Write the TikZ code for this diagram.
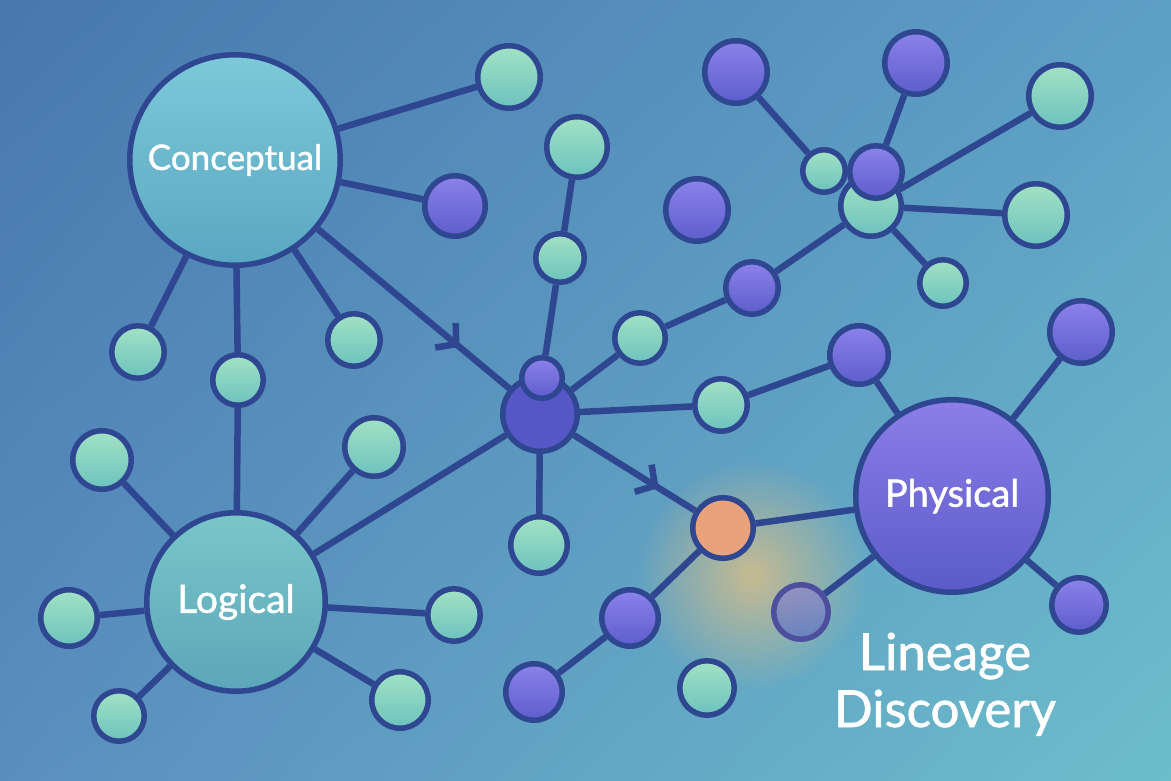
\documentclass[tikz,border=0pt]{standalone}
\usepackage{fontspec}
\setmainfont{Lato}
\newfontfamily\labelfont{Lato}[FakeBold=1.3]
\usetikzlibrary{arrows.meta,decorations.markings,fadings,shadings}

\definecolor{edge}{HTML}{2F4690}
\definecolor{mintA}{HTML}{A2E2C4}
\definecolor{mintB}{HTML}{6CC2BE}
\definecolor{vioA}{HTML}{8C82EA}
\definecolor{vioB}{HTML}{5D5DCC}
\definecolor{skyA}{HTML}{4877AE}
\definecolor{skyB}{HTML}{5E9FC6}
\definecolor{skyC}{HTML}{5A8EBF}
\definecolor{skyD}{HTML}{6CBECB}
\definecolor{glow}{HTML}{F2C47C}
\definecolor{conA}{HTML}{7CC9D9}
\definecolor{conB}{HTML}{5AA7C2}
\definecolor{logA}{HTML}{79C7C9}
\definecolor{logB}{HTML}{5BA6B9}
\definecolor{phyA}{HTML}{8C7EE8}
\definecolor{phyB}{HTML}{5A5BC9}
\definecolor{hubC}{HTML}{5657C6}
\definecolor{orngC}{HTML}{E9A37C}
\definecolor{fadeA}{HTML}{9088C8}
\definecolor{fadeB}{HTML}{6076C2}
\definecolor{fadeE}{HTML}{4E4E9E}

\tikzfading[name=glowfade, inner color=transparent!30, outer color=transparent!100]

\pgfdeclarelayer{sky}
\pgfdeclarelayer{links}
\pgfsetlayers{sky,links,main}

\tikzset{
  dot/.style={circle, draw=edge, line width=5.5pt, inner sep=0pt, minimum size={2*#1pt-5.5pt}},
  mint/.style={dot=#1, top color=mintA, bottom color=mintB},
  violet/.style={dot=#1, top color=vioA, bottom color=vioB},
  link/.style={draw=edge, line width=6.5pt},
  flow/.style={link, postaction={decorate}, decoration={markings,
      mark=at position #1 with {\arrow{Straight Barb[length=14pt,width=32pt]}}}},
  title/.style={text=white, font=\labelfont\fontsize{#1}{#1}\selectfont},
}

\begin{document}
\begin{tikzpicture}[x=1pt,y=-1pt]
    \useasboundingbox (0,0) rectangle (1171,781);
    \begin{pgfonlayer}{sky}
        \shade[upper left=skyA, upper right=skyB, lower left=skyC, lower right=skyD] (0,0) rectangle (1171,781);
        \fill[glow, path fading=glowfade] (752,575) circle (115);
    \end{pgfonlayer}

    % main hubs
    \node[dot=108, top color=conA, bottom color=conB] (con) at (235,160) {};
    \node[title=35] at (con) {Conceptual};
    \node[dot=92, top color=logA, bottom color=logB] (log) at (236,602) {};
    \node[title=39] at (log) {Logical};
    \node[dot=99, top color=phyA, bottom color=phyB] (phy) at (952,496) {};
    \node[title=38] at (phy) {Physical};
    \node[dot=40, fill=hubC] (hub) at (540,414) {};
    \node[violet=23] (hubtop) at (542,378) {};
    \node[dot=33, fill=orngC] (orng) at (723,528) {};

    % around conceptual
    \node[mint=34] (c1) at (509,77) {};
    \node[violet=33] (c2) at (455,206) {};
    \node[mint=29] (c3) at (138,352) {};
    \node[mint=28] (c4) at (238,380) {};
    \node[mint=29] (c5) at (354,340) {};

    % around logical
    \node[mint=32] (l1) at (102,460) {};
    \node[mint=32] (l2) at (374,447) {};
    \node[mint=31] (l3) at (69,618) {};
    \node[mint=28] (l4) at (119,716) {};
    \node[mint=29] (l5) at (454,615) {};
    \node[mint=31] (l6) at (400,700) {};

    % middle
    \node[mint=33] (m1) at (577,147) {};
    \node[mint=27] (m2) at (560,258) {};
    \node[mint=31] (m3) at (539,545) {};
    \node[mint=28] (m4) at (640,338) {};
    \node[mint=29] (m5) at (721,405) {};

    % cluster top right
    \node[mint=33] (k0) at (871,206) {};
    \node[mint=24] (k1) at (824,171) {};
    \node[violet=29] (k2) at (876,172) {};
    \node[violet=34] (t1) at (736,72) {};
    \node[violet=34] (t2) at (916,63) {};
    \node[mint=34] (t3) at (1060,96) {};
    \node[mint=34] (t4) at (1036,215) {};
    \node[mint=26] (t5) at (943,283) {};
    \node[violet=29] (p1) at (752,288) {};
    \node[violet=34] (iso) at (697,210) {};

    % around physical
    \node[violet=32] (p2) at (859,355) {};
    \node[violet=34] (p3) at (1081,332) {};
    \node[violet=30] (p4) at (1079,605) {};
    \node[dot=30, draw=fadeE, top color=fadeA, bottom color=fadeB, fill opacity=0.75] (p5) at (801,612) {};
    \node[violet=31] (q1) at (630,618) {};
    \node[violet=31] (q2) at (534,692) {};
    \node[mint=30] (q3) at (707,688) {};

    \node[title=51, anchor=base] (lin1) at (945,670) {Lineage};
    \node[title=51, anchor=base] (lin2) at (945,727) {Discovery};

    \begin{pgfonlayer}{links}
        \draw[link] (con) -- (c1);
        \draw[link] (con) -- (c2);
        \draw[link] (con) -- (c3);
        \draw[link] (con) -- (c4);
        \draw[link] (con) -- (c5);
        \draw[link] (c4) -- (log);
        \draw[link] (log) -- (l1);
        \draw[link] (log) -- (l2);
        \draw[link] (log) -- (l3);
        \draw[link] (log) -- (l4);
        \draw[link] (log) -- (l5);
        \draw[link] (log) -- (l6);
        \draw[link] (log) -- (hub);
        \draw[flow=0.74] (con) -- (hub);
        \draw[flow=0.7] (hub) -- (orng);
        \draw[link] (m1) -- (m2);
        \draw[link] (m2) -- (hubtop);
        \draw[link] (hub) -- (m3);
        \draw[link] (hub) -- (m4);
        \draw[link] (hub) -- (m5);
        \draw[link] (m4) -- (p1);
        \draw[link] (p1) -- (k0);
        \draw[link] (t1) -- (k1);
        \draw[link] (t2) -- (k2);
        \draw[link] (t3) -- (k0);
        \draw[link] (t4) -- (k0);
        \draw[link] (t5) -- (k0);
        \draw[link] (m5) -- (p2);
        \draw[link] (p2) -- (phy);
        \draw[link] (p3) -- (phy);
        \draw[link] (p4) -- (phy);
        \draw[link] (p5) -- (phy);
        \draw[link] (orng) -- (phy);
        \draw[link] (orng) -- (q1);
        \draw[link] (q1) -- (q2);
    \end{pgfonlayer}
\end{tikzpicture}
\end{document}
